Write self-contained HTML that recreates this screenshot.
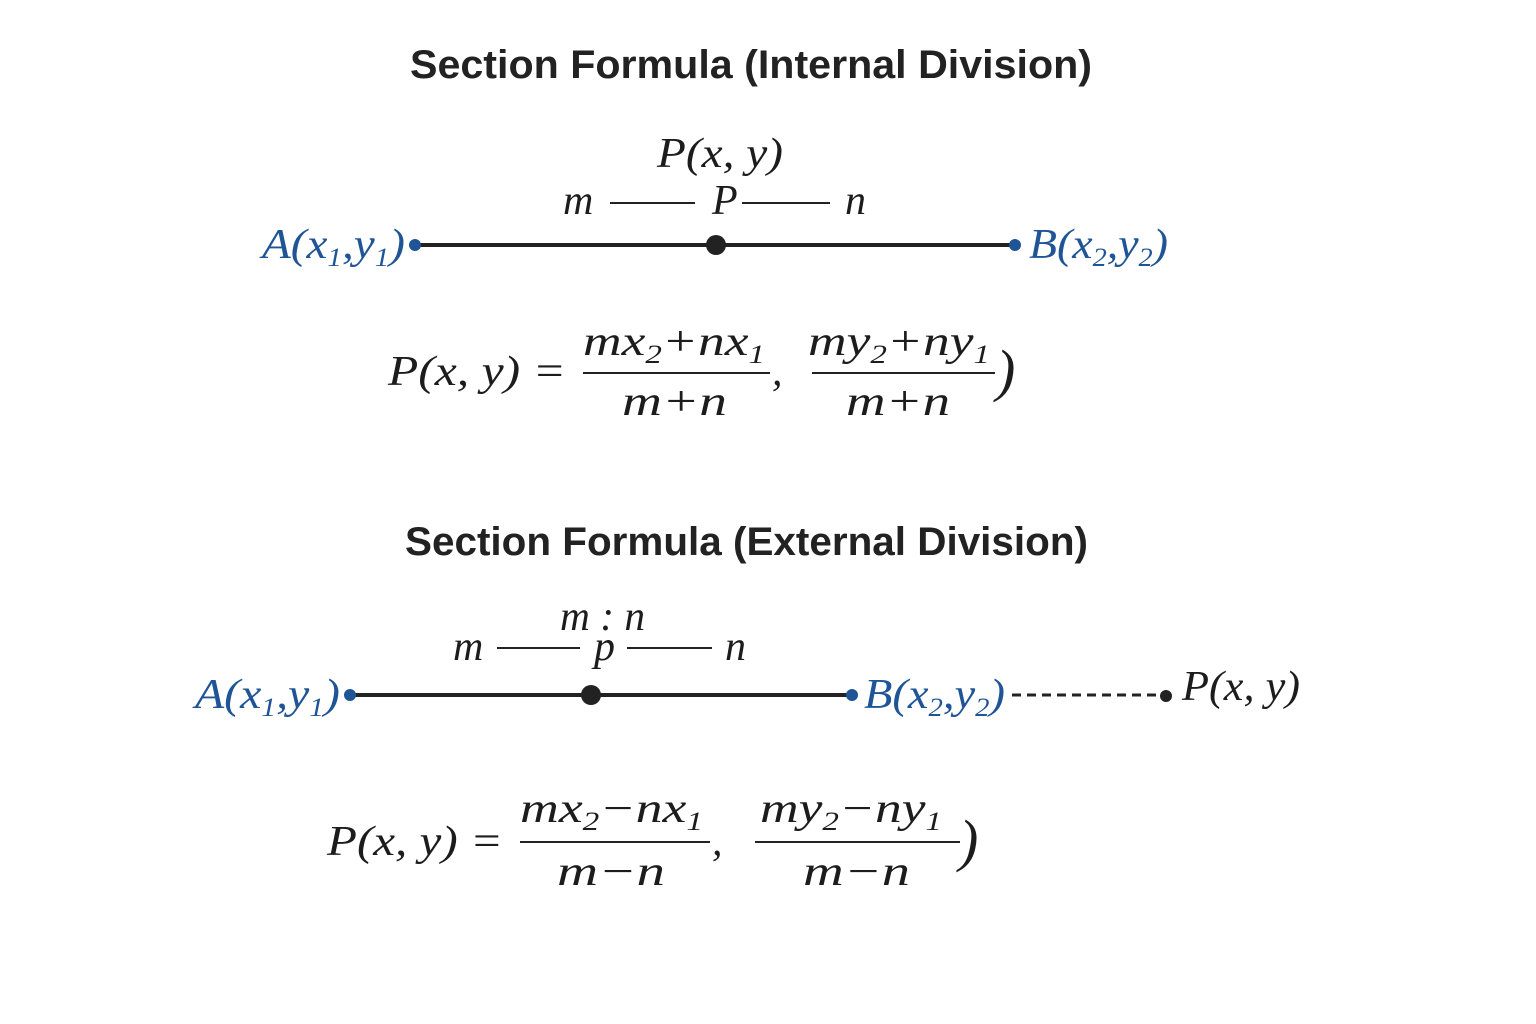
<!DOCTYPE html>
<html><head><meta charset="utf-8"><style>
html,body{margin:0;padding:0;background:#fff;}
svg{display:block}
.t{font-family:"Liberation Sans",sans-serif;font-weight:bold;font-size:40px;fill:#222}
.m{font-family:"Liberation Serif",serif;font-style:italic;font-size:42px;fill:#1c1c1c}
.b{fill:#1f5596}
.s{font-size:26px}
.big{font-size:58px}
</style></head><body>
<svg width="1536" height="1024" viewBox="0 0 1536 1024" xmlns="http://www.w3.org/2000/svg">
<rect width="1536" height="1024" fill="#fff"/>
<!-- Internal -->
<text class="t" x="410" y="78" textLength="682" lengthAdjust="spacingAndGlyphs">Section Formula (Internal Division)</text>
<text class="m" x="657" y="167" textLength="126" lengthAdjust="spacingAndGlyphs">P(x, y)</text>
<text class="m" x="563" y="214">m</text>
<line x1="610" y1="203" x2="695" y2="203" stroke="#222" stroke-width="2"/>
<text class="m" x="712" y="214">P</text>
<line x1="742" y1="203" x2="830" y2="203" stroke="#222" stroke-width="2"/>
<text class="m" x="845" y="214">n</text>
<line x1="415" y1="245" x2="1015" y2="245" stroke="#222" stroke-width="4"/>
<circle cx="415" cy="245" r="6" fill="#1f5596"/>
<circle cx="1015" cy="245" r="6" fill="#1f5596"/>
<circle cx="716" cy="245" r="10" fill="#222"/>
<text class="m b" x="262" y="258" textLength="143" lengthAdjust="spacingAndGlyphs">A(x<tspan class="s" dy="8">1</tspan><tspan dy="-8">,y</tspan><tspan class="s" dy="8">1</tspan><tspan dy="-8">)</tspan></text>
<text class="m b" x="1029" y="258" textLength="139" lengthAdjust="spacingAndGlyphs">B(x<tspan class="s" dy="8">2</tspan><tspan dy="-8">,y</tspan><tspan class="s" dy="8">2</tspan><tspan dy="-8">)</tspan></text>

<text class="m" x="388" y="385" textLength="178" lengthAdjust="spacingAndGlyphs">P(x, y) =</text>
<text class="m" x="583" y="355" textLength="182" lengthAdjust="spacingAndGlyphs">mx<tspan class="s" dy="8">2</tspan><tspan dy="-8">+nx</tspan><tspan class="s" dy="8">1</tspan></text>
<line x1="583" y1="373" x2="770" y2="373" stroke="#222" stroke-width="2"/>
<text class="m" x="622" y="415" textLength="105" lengthAdjust="spacingAndGlyphs">m+n</text>
<text class="m" x="772" y="385">,</text>
<text class="m" x="808" y="355" textLength="182" lengthAdjust="spacingAndGlyphs">my<tspan class="s" dy="8">2</tspan><tspan dy="-8">+ny</tspan><tspan class="s" dy="8">1</tspan></text>
<line x1="812" y1="373" x2="995" y2="373" stroke="#222" stroke-width="2"/>
<text class="m" x="846" y="415" textLength="104" lengthAdjust="spacingAndGlyphs">m+n</text>
<text class="m big" x="996" y="390">)</text>

<!-- External -->
<text class="t" x="405" y="555" textLength="683" lengthAdjust="spacingAndGlyphs">Section Formula (External Division)</text>
<text class="m" x="560" y="630" textLength="85" lengthAdjust="spacingAndGlyphs">m : n</text>
<text class="m" x="453" y="660">m</text>
<line x1="497" y1="648" x2="580" y2="648" stroke="#222" stroke-width="2"/>
<text class="m" x="594" y="660">p</text>
<line x1="627" y1="648" x2="712" y2="648" stroke="#222" stroke-width="2"/>
<text class="m" x="725" y="660">n</text>
<line x1="350" y1="695" x2="852" y2="695" stroke="#222" stroke-width="4"/>
<line x1="1012" y1="695" x2="1160" y2="695" stroke="#222" stroke-width="3" stroke-dasharray="9,6"/>
<circle cx="350" cy="695" r="6" fill="#1f5596"/>
<circle cx="852" cy="695" r="6" fill="#1f5596"/>
<circle cx="591" cy="695" r="10" fill="#222"/>
<circle cx="1166" cy="696" r="6" fill="#222"/>
<text class="m b" x="195" y="708" textLength="145" lengthAdjust="spacingAndGlyphs">A(x<tspan class="s" dy="8">1</tspan><tspan dy="-8">,y</tspan><tspan class="s" dy="8">1</tspan><tspan dy="-8">)</tspan></text>
<text class="m b" x="864" y="708" textLength="141" lengthAdjust="spacingAndGlyphs">B(x<tspan class="s" dy="8">2</tspan><tspan dy="-8">,y</tspan><tspan class="s" dy="8">2</tspan><tspan dy="-8">)</tspan></text>
<text class="m" x="1182" y="700" textLength="118" lengthAdjust="spacingAndGlyphs">P(x, y)</text>

<text class="m" x="327" y="855" textLength="176" lengthAdjust="spacingAndGlyphs">P(x, y) =</text>
<text class="m" x="520" y="822" textLength="183" lengthAdjust="spacingAndGlyphs">mx<tspan class="s" dy="8">2</tspan><tspan dy="-8">−nx</tspan><tspan class="s" dy="8">1</tspan></text>
<line x1="520" y1="842" x2="710" y2="842" stroke="#222" stroke-width="2"/>
<text class="m" x="557" y="885" textLength="108" lengthAdjust="spacingAndGlyphs">m−n</text>
<text class="m" x="712" y="855">,</text>
<text class="m" x="760" y="822" textLength="182" lengthAdjust="spacingAndGlyphs">my<tspan class="s" dy="8">2</tspan><tspan dy="-8">−ny</tspan><tspan class="s" dy="8">1</tspan></text>
<line x1="755" y1="842" x2="960" y2="842" stroke="#222" stroke-width="2"/>
<text class="m" x="803" y="885" textLength="107" lengthAdjust="spacingAndGlyphs">m−n</text>
<text class="m big" x="959" y="860">)</text>
</svg>
</body></html>
